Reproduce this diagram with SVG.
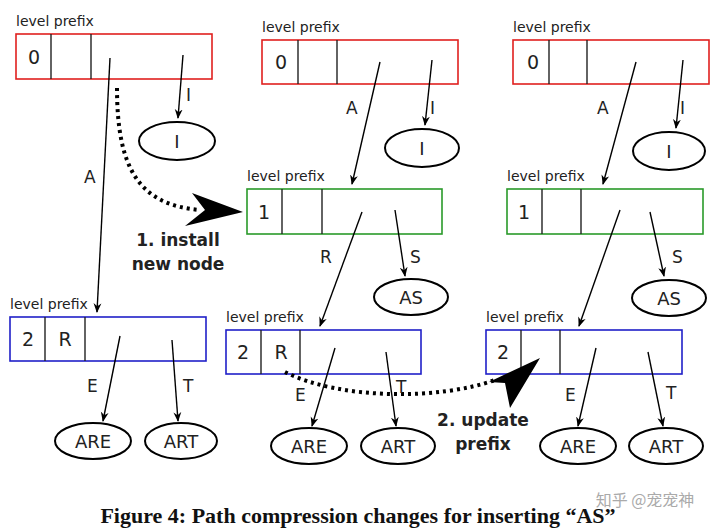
<svg xmlns="http://www.w3.org/2000/svg" width="720" height="532" viewBox="0 0 720 532">
<defs>
<marker id="ah" viewBox="0 0 10 10" refX="9" refY="5" markerWidth="7" markerHeight="7" orient="auto"><path d="M0,1 L10,5 L0,9 L3,5 Z" fill="#000"/></marker>
</defs>
<style>
text{font-family:"DejaVu Sans","Liberation Sans",sans-serif;fill:#222}
.lbl{font-size:14px}
.el2{font-size:17px}
.big{font-size:19px;text-anchor:middle}
.el{font-size:18px;text-anchor:middle}
.box{fill:#fff;stroke-width:1.6}
.r{stroke:#e0201e}.g{stroke:#2a9a2a}.b{stroke:#2020c8}
.div{stroke:#222;stroke-width:1.4}
.ell{fill:#fff;stroke:#000;stroke-width:2}
.c{stroke:#000;stroke-width:1.4;fill:none;marker-end:url(#ah)}
.dot{stroke:#000;stroke-width:4;stroke-dasharray:3 4;fill:none}
.bold{font-size:17px;font-weight:bold;text-anchor:middle}
</style>
<g id="n-red-left"><text class="lbl" x="16" y="26">level prefix</text><rect class="box r" x="16" y="34" width="196" height="45"/><line class="div" x1="51" y1="34" x2="51" y2="79"/><line class="div" x1="91" y1="34" x2="91" y2="79"/><text class="big" x="34" y="64">0</text></g>
<g id="n-I-left"><ellipse class="ell" cx="177" cy="141" rx="38" ry="19"/><text class="el" x="177" y="148">I</text></g>
<g id="n-blue-left"><text class="lbl" x="10" y="309">level prefix</text><rect class="box b" x="10" y="317" width="196" height="44"/><line class="div" x1="45" y1="317" x2="45" y2="361"/><line class="div" x1="85" y1="317" x2="85" y2="361"/><text class="big" x="28" y="346">2</text><text class="big" x="65" y="346">R</text></g>
<g id="n-ARE-left"><ellipse class="ell" cx="93" cy="441" rx="38" ry="18"/><text class="el" x="93" y="448">ARE</text></g>
<g id="n-ART-left"><ellipse class="ell" cx="181" cy="441" rx="36" ry="18"/><text class="el" x="181" y="448">ART</text></g>

<g id="n-red-mid"><text class="lbl" x="262" y="32">level prefix</text><rect class="box r" x="262" y="40" width="196" height="44"/><line class="div" x1="298" y1="40" x2="298" y2="84"/><line class="div" x1="337" y1="40" x2="337" y2="84"/><text class="big" x="281" y="69">0</text></g>
<g id="n-I-mid"><ellipse class="ell" cx="422" cy="148" rx="37" ry="19"/><text class="el" x="422" y="155">I</text></g>
<g id="n-green-mid"><text class="lbl" x="247" y="181">level prefix</text><rect class="box g" x="247" y="189" width="195" height="45"/><line class="div" x1="282" y1="189" x2="282" y2="234"/><line class="div" x1="322" y1="189" x2="322" y2="234"/><text class="big" x="264" y="219">1</text></g>
<g id="n-AS-mid"><ellipse class="ell" cx="411" cy="297" rx="37" ry="18"/><text class="el" x="411" y="304">AS</text></g>
<g id="n-blue-mid"><text class="lbl" x="226" y="322">level prefix</text><rect class="box b" x="226" y="330" width="195" height="44"/><line class="div" x1="261" y1="330" x2="261" y2="374"/><line class="div" x1="300" y1="330" x2="300" y2="374"/><text class="big" x="243" y="359">2</text><text class="big" x="281" y="359">R</text></g>
<g id="n-ARE-mid"><ellipse class="ell" cx="309" cy="446" rx="38" ry="18"/><text class="el" x="309" y="453">ARE</text></g>
<g id="n-ART-mid"><ellipse class="ell" cx="398" cy="446" rx="37" ry="18"/><text class="el" x="398" y="453">ART</text></g>

<g id="n-red-right"><text class="lbl" x="513" y="32">level prefix</text><rect class="box r" x="513" y="40" width="196" height="44"/><line class="div" x1="549" y1="40" x2="549" y2="84"/><line class="div" x1="587" y1="40" x2="587" y2="84"/><text class="big" x="533" y="69">0</text></g>
<g id="n-I-right"><ellipse class="ell" cx="669" cy="151" rx="36" ry="19"/><text class="el" x="669" y="158">I</text></g>
<g id="n-green-right"><text class="lbl" x="507" y="181">level prefix</text><rect class="box g" x="507" y="189" width="196" height="45"/><line class="div" x1="542" y1="189" x2="542" y2="234"/><line class="div" x1="581" y1="189" x2="581" y2="234"/><text class="big" x="524" y="219">1</text></g>
<g id="n-AS-right"><ellipse class="ell" cx="669" cy="298" rx="37" ry="18"/><text class="el" x="669" y="305">AS</text></g>
<g id="n-blue-right"><text class="lbl" x="486" y="322">level prefix</text><rect class="box b" x="486" y="330" width="196" height="44"/><line class="div" x1="521" y1="330" x2="521" y2="374"/><line class="div" x1="560" y1="330" x2="560" y2="374"/><text class="big" x="503" y="359">2</text></g>
<g id="n-ARE-right"><ellipse class="ell" cx="578" cy="446" rx="38" ry="18"/><text class="el" x="578" y="453">ARE</text></g>
<g id="n-ART-right"><ellipse class="ell" cx="666" cy="446" rx="37" ry="18"/><text class="el" x="666" y="453">ART</text></g>

<g id="connectors">
<line class="c" x1="110" y1="58" x2="97" y2="312"/>
<line class="c" x1="183" y1="55" x2="178" y2="118"/>
<line class="c" x1="120" y1="336" x2="103" y2="421"/>
<line class="c" x1="172" y1="340" x2="178" y2="421"/>
<line class="c" x1="380" y1="62" x2="352" y2="184"/>
<line class="c" x1="432" y1="60" x2="425" y2="125"/>
<line class="c" x1="362" y1="212" x2="320" y2="326"/>
<line class="c" x1="395" y1="210" x2="405" y2="276"/>
<line class="c" x1="335" y1="348" x2="312" y2="426"/>
<line class="c" x1="386" y1="352" x2="396" y2="426"/>
<line class="c" x1="636" y1="62" x2="603" y2="184"/>
<line class="c" x1="683" y1="60" x2="676" y2="128"/>
<line class="c" x1="620" y1="210" x2="579" y2="326"/>
<line class="c" x1="650" y1="212" x2="664" y2="276"/>
<line class="c" x1="596" y1="348" x2="578" y2="426"/>
<line class="c" x1="648" y1="352" x2="663" y2="426"/>
<path class="dot" d="M117,88 C117,170 140,205 200,210"/>
<polygon points="243,212 192,193 205,210 185,226" fill="#000"/>
<path class="dot" d="M285,372 C340,400 440,400 495,380"/>
<polygon points="540,358 489,382 505,383 510,408" fill="#000"/>
</g>
<g id="labels">
<text class="el2" x="84" y="183">A</text>
<text class="el2" x="186" y="101">I</text>
<text class="el2" x="87" y="392">E</text>
<text class="el2" x="183" y="392">T</text>
<text class="el2" x="346" y="114">A</text>
<text class="el2" x="430" y="114">I</text>
<text class="el2" x="320" y="263">R</text>
<text class="el2" x="410" y="263">S</text>
<text class="el2" x="295" y="401">E</text>
<text class="el2" x="396" y="393">T</text>
<text class="el2" x="597" y="114">A</text>
<text class="el2" x="680" y="114">I</text>
<text class="el2" x="672" y="263">S</text>
<text class="el2" x="565" y="401">E</text>
<text class="el2" x="666" y="399">T</text>
<text class="bold" x="178" y="246">1. install</text>
<text class="bold" x="178" y="270">new node</text>
<text class="bold" x="483" y="426">2. update</text>
<text class="bold" x="483" y="450">prefix</text>
</g>
<text x="358" y="523" style="font-family:'Liberation Serif',serif;font-weight:bold;font-size:22px;text-anchor:middle;fill:#111">Figure 4: Path compression changes for inserting “AS”</text>
<text x="645" y="506" style="font-family:'Noto Sans CJK SC',sans-serif;font-size:16px;text-anchor:middle;fill:#aaa">知乎 @宠宠神</text>
</svg>
